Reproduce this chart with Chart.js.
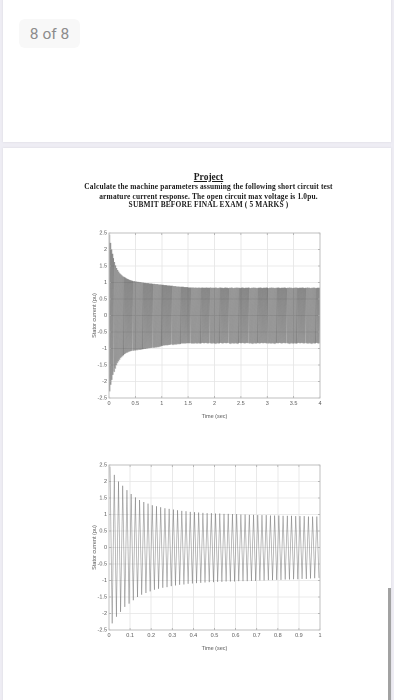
<!DOCTYPE html>
<html>
<head>
<meta charset="utf-8">
<title>Project</title>
<script src="https://cdn.jsdelivr.net/npm/chart.js@4"></script>
<style>
  html, body { margin: 0; padding: 0; }
  body { width: 394px; height: 700px; background: #eeedf4; position: relative; overflow: hidden; }
  .card { position: absolute; left: 3px; width: 388px; background: #fff; box-shadow: 0 0 2px #d8d7e0; }
  .badge { position: absolute; left: 19px; top: 19px; width: 61px; height: 29px; line-height: 29px; background: #f8f8f8;
    border-radius: 6px; text-align: center; font: 15.5px/30px Roboto, sans-serif; color: #8c8c8c; }
  .head { position: absolute; left: 0; width: 417px; text-align: center; font-family: "Liberation Serif", serif;
    font-weight: bold; color: #1a1a1a; white-space: nowrap; letter-spacing: 0.17px; filter: blur(0.25px); }
  canvas { position: absolute; filter: blur(0.3px); }
  .bar { position: absolute; left: 388px; top: 588px; width: 3px; height: 112px; background: #a2a2a2; }
</style>
</head>
<body>
<div class="card" style="top:-2px;height:144px"></div>
<div class="card" style="top:148px;height:560px"></div>
<div class="badge">8 of 8</div>
<div class="head" style="top:172px;font-size:9.5px;line-height:11px;letter-spacing:0;text-decoration:underline">Project</div>
<div class="head" style="top:182px;font-size:7.4px;line-height:9px">Calculate the machine parameters assuming the following short circuit test</div>
<div class="head" style="top:191.5px;font-size:7.4px;line-height:9px">armature current response. The open circuit max voltage is 1.0pu.</div>
<div class="head" style="top:200px;font-size:7.4px;line-height:9px">SUBMIT BEFORE FINAL EXAM ( 5 MARKS )</div>
<canvas id="longChart" style="left:91px;top:225px"></canvas>
<canvas id="shortChart" style="left:91px;top:457px"></canvas>
<div class="bar"></div>

<script>
// stator current peaks, one value per 50 Hz cycle
const peaksUpper = [
  2.45, 2.2, 2.0, 1.87, 1.74, 1.62, 1.52, 1.44, 1.38, 1.33, 1.28, 1.25, 1.22, 1.19, 1.17, 1.15, 1.13, 1.11, 1.1, 1.08,
  1.07, 1.06, 1.05, 1.04, 1.04, 1.03, 1.03, 1.02, 1.02, 1.01, 1.01, 1.0, 1.0, 0.99, 0.99, 0.98, 0.98, 0.98, 0.97, 0.97,
  0.97, 0.96, 0.96, 0.96, 0.95, 0.95, 0.95, 0.94, 0.94, 0.94, 0.93, 0.93, 0.92, 0.92, 0.92, 0.91, 0.91, 0.91, 0.9, 0.9,
  0.9, 0.89, 0.89, 0.89, 0.88, 0.88, 0.88, 0.87, 0.87, 0.87, 0.87, 0.86, 0.86, 0.86, 0.86, 0.85, 0.85, 0.85, 0.85, 0.85,
  0.85, 0.84, 0.85, 0.84, 0.84, 0.85, 0.84, 0.84, 0.85, 0.84, 0.84, 0.84, 0.85, 0.84, 0.84, 0.84, 0.85, 0.84, 0.84, 0.84,
  0.84, 0.85, 0.84, 0.83, 0.84, 0.85, 0.84, 0.84, 0.83, 0.84, 0.85, 0.84, 0.84, 0.83, 0.84, 0.84, 0.85, 0.84, 0.83, 0.84,
  0.84, 0.85, 0.84, 0.84, 0.83, 0.84, 0.85, 0.84, 0.83, 0.84, 0.84, 0.84, 0.85, 0.84, 0.83, 0.84, 0.84, 0.85, 0.84, 0.84,
  0.83, 0.84, 0.84, 0.85, 0.84, 0.83, 0.84, 0.84, 0.84, 0.85, 0.84, 0.83, 0.84, 0.84, 0.85, 0.84, 0.84, 0.83, 0.84, 0.84,
  0.85, 0.84, 0.83, 0.84, 0.84, 0.84, 0.85, 0.84, 0.83, 0.84, 0.84, 0.85, 0.84, 0.84, 0.83, 0.84, 0.84, 0.85, 0.84, 0.83,
  0.84, 0.84, 0.84, 0.85, 0.84, 0.83, 0.84, 0.84, 0.85, 0.84, 0.84, 0.83, 0.84, 0.84, 0.85, 0.84, 0.83, 0.84, 0.84, 0.84
];
const peaksLower = [
  -2.3, -2.1, -1.95, -1.8, -1.7, -1.6, -1.5, -1.43, -1.38, -1.33, -1.28, -1.25, -1.22, -1.2, -1.17, -1.15, -1.13, -1.12, -1.1, -1.09,
  -1.08, -1.07, -1.06, -1.05, -1.05, -1.04, -1.04, -1.03, -1.03, -1.03, -1.02, -1.02, -1.02, -1.01, -1.01, -1.0, -1.0, -0.99, -0.99, -0.98,
  -0.98, -0.97, -0.97, -0.96, -0.96, -0.95, -0.95, -0.94, -0.93, -0.92, -0.92, -0.91, -0.91, -0.9, -0.9, -0.9, -0.89, -0.89, -0.88, -0.88,
  -0.88, -0.87, -0.87, -0.87, -0.86, -0.86, -0.86, -0.86, -0.85, -0.85, -0.85, -0.85, -0.85, -0.84, -0.84, -0.84, -0.84, -0.84, -0.84, -0.84,
  -0.84, -0.83, -0.84, -0.84, -0.83, -0.84, -0.85, -0.84, -0.83, -0.84, -0.84, -0.83, -0.84, -0.85, -0.84, -0.83, -0.84, -0.84, -0.83, -0.84,
  -0.85, -0.84, -0.83, -0.84, -0.84, -0.83, -0.84, -0.85, -0.84, -0.83, -0.84, -0.84, -0.83, -0.84, -0.85, -0.84, -0.83, -0.84, -0.84, -0.83,
  -0.84, -0.85, -0.84, -0.83, -0.84, -0.84, -0.83, -0.84, -0.85, -0.84, -0.83, -0.84, -0.84, -0.83, -0.84, -0.85, -0.84, -0.83, -0.84, -0.84,
  -0.83, -0.84, -0.85, -0.84, -0.83, -0.84, -0.84, -0.83, -0.84, -0.85, -0.84, -0.83, -0.84, -0.84, -0.83, -0.84, -0.85, -0.84, -0.83, -0.84,
  -0.84, -0.83, -0.84, -0.85, -0.84, -0.83, -0.84, -0.84, -0.83, -0.84, -0.85, -0.84, -0.83, -0.84, -0.84, -0.83, -0.84, -0.85, -0.84, -0.83,
  -0.84, -0.84, -0.83, -0.84, -0.85, -0.84, -0.83, -0.84, -0.84, -0.83, -0.84, -0.85, -0.84, -0.83, -0.84, -0.84, -0.83, -0.84, -0.85, -0.84
];
const cycleTime = 0.02; // sec, 50 Hz supply
const firstPeak = 0.005;
const yTicks = [-2.5, -2, -1.5, -1, -0.5, 0, 0.5, 1, 1.5, 2, 2.5];
const longTimeTicks = [0, 0.5, 1, 1.5, 2, 2.5, 3, 3.5, 4];
const shortTimeTicks = [0, 0.1, 0.2, 0.3, 0.4, 0.5, 0.6, 0.7, 0.8, 0.9, 1];
const yLabel = "Stator current (pu)";
const xLabel = "Time (sec)";

// peak, trough, peak, trough...
function buildWave(cycles) {
  const pts = [];
  for (let i = 0; i < cycles; i++) {
    pts.push({ x: firstPeak + i * cycleTime, y: peaksUpper[i] });
    pts.push({ x: firstPeak + (i + 0.5) * cycleTime, y: peaksLower[i] });
  }
  return pts;
}

// box round the axes and the small inward ticks, like a matlab figure
const boxPlugin = {
  id: "box",
  afterDatasetsDraw(chart) {
    const { ctx, chartArea: a, scales } = chart;
    ctx.save();
    ctx.strokeStyle = "#a8a8a8";
    ctx.lineWidth = 0.8;
    ctx.beginPath();
    scales.x.ticks.forEach((t) => {
      const px = scales.x.getPixelForValue(t.value);
      ctx.moveTo(px, a.top); ctx.lineTo(px, a.top + 2);
      ctx.moveTo(px, a.bottom); ctx.lineTo(px, a.bottom - 2);
    });
    scales.y.ticks.forEach((t) => {
      const py = scales.y.getPixelForValue(t.value);
      ctx.moveTo(a.left, py); ctx.lineTo(a.left + 2, py);
      ctx.moveTo(a.right, py); ctx.lineTo(a.right - 2, py);
    });
    ctx.stroke();
    ctx.strokeStyle = "#b4b4b4";
    ctx.strokeRect(a.left, a.top, a.right - a.left, a.bottom - a.top);
    ctx.restore();
  },
};

function drawChart(id, cycles, tMax, tTicks, colorA, colorB, lineWidth) {
  const canvas = document.getElementById(id);
  canvas.width = 239;
  canvas.height = 195;
  const tickFont = { size: 5.5, family: "Liberation Sans" };
  return new Chart(canvas.getContext("2d"), {
    type: "line",
    data: {
      datasets: [{
        data: buildWave(cycles),
        borderColor: colorA,
        borderWidth: lineWidth,
        pointRadius: 0,
        tension: 0,
        // two near equal colours so every stroke is painted on its own and they add up
        segment: { borderColor: (c) => (c.p0DataIndex % 2 ? colorB : colorA) },
      }],
    },
    options: {
      responsive: false,
      animation: false,
      devicePixelRatio: 2,
      layout: { padding: { left: 0, right: 10, top: 8, bottom: 0 } },
      plugins: { legend: { display: false }, tooltip: { enabled: false } },
      scales: {
        x: {
          type: "linear",
          min: 0,
          max: tMax,
          afterBuildTicks: (s) => { s.ticks = tTicks.map((v) => ({ value: v })); },
          afterFit: (s) => { s.height = 22; },
          grid: { color: "#e4e4e4", lineWidth: 0.8, drawTicks: false },
          border: { display: false },
          ticks: { padding: 2, maxRotation: 0, autoSkip: false, color: "#555", font: tickFont, callback: (v) => String(v) },
          title: { display: true, text: xLabel, color: "#555", font: tickFont, padding: { top: 0, bottom: 0 } },
        },
        y: {
          min: -2.5,
          max: 2.5,
          afterBuildTicks: (s) => { s.ticks = yTicks.map((v) => ({ value: v })); },
          afterFit: (s) => { s.width = 18; },
          grid: { color: "#e4e4e4", lineWidth: 0.8, drawTicks: false },
          border: { display: false },
          ticks: { padding: 2, autoSkip: false, color: "#555", font: tickFont, callback: (v) => String(v) },
          title: { display: true, text: yLabel, color: "#555", font: tickFont, padding: { top: 0, bottom: 0 } },
        },
      },
    },
    plugins: [boxPlugin],
  });
}

drawChart("longChart", 200, 4, longTimeTicks, "rgba(40,40,40,0.28)", "rgba(42,42,42,0.28)", 1.1);
drawChart("shortChart", 50, 1, shortTimeTicks, "rgba(90,90,90,0.5)", "rgba(92,92,92,0.5)", 0.8);
</script>
</body>
</html>
